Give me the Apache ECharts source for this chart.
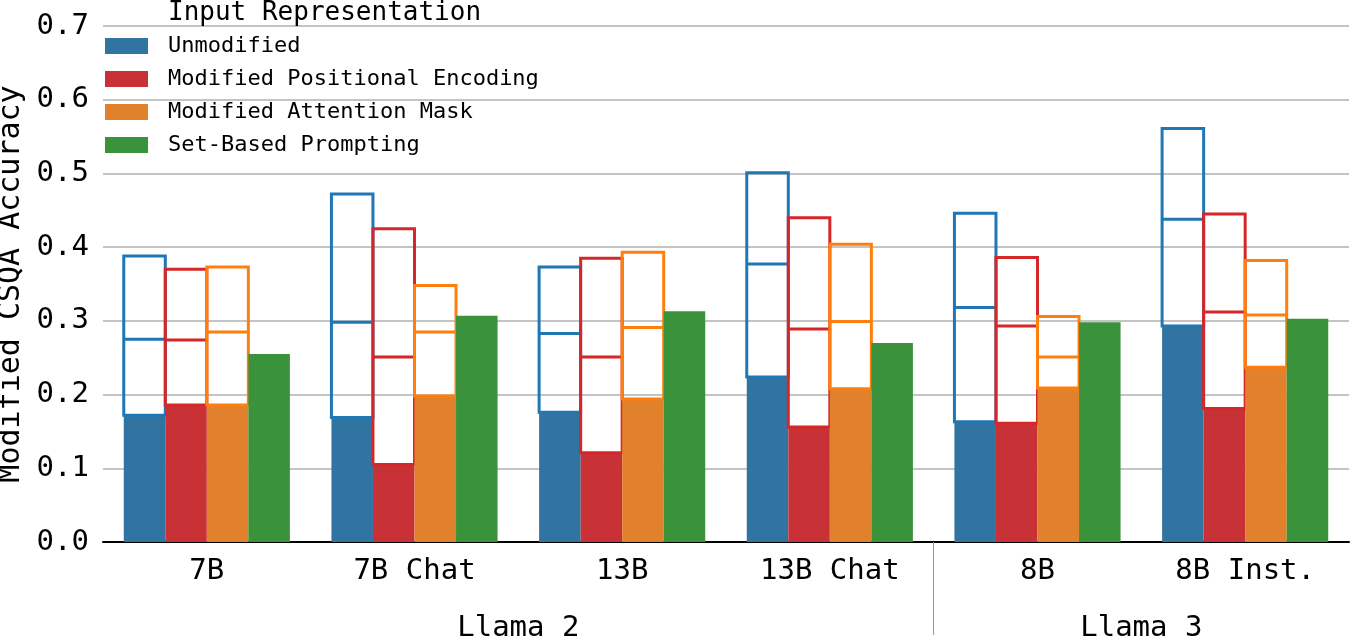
<!DOCTYPE html>
<html>
<head>
<meta charset="utf-8">
<script src="https://cdn.jsdelivr.net/npm/echarts@6.0.0/dist/echarts.min.js"></script>
<style>
  html, body { margin: 0; padding: 0; background: #fff; }
  #chart { width: 1353px; height: 640px; }
</style>
</head>
<body>
<div id="chart"></div>
<script>
const categories = ['7B', '7B Chat', '13B', '13B Chat', '8B', '8B Inst.'];
const families = ['Llama 2', 'Llama 3'];

// min / median / max per model
const unmodMin = [0.172, 0.169, 0.176, 0.224, 0.163, 0.293];
const unmodMed = [0.275, 0.298, 0.283, 0.377, 0.318, 0.438];
const unmodMax = [0.388, 0.472, 0.373, 0.501, 0.446, 0.561];

const posMin = [0.186, 0.105, 0.121, 0.156, 0.161, 0.181];
const posMed = [0.274, 0.251, 0.251, 0.289, 0.293, 0.312];
const posMax = [0.370, 0.425, 0.385, 0.440, 0.386, 0.445];

const maskMin = [0.186, 0.198, 0.194, 0.208, 0.209, 0.237];
const maskMed = [0.285, 0.285, 0.291, 0.299, 0.251, 0.308];
const maskMax = [0.373, 0.348, 0.393, 0.404, 0.306, 0.382];

const setBased = [0.255, 0.307, 0.313, 0.270, 0.298, 0.303];

const yTicks = [0, 0.1, 0.2, 0.3, 0.4, 0.5, 0.6, 0.7];

const FONT = 'DejaVu Sans Mono';

// fill colour, outline colour
const styles = [
    {name: 'Unmodified', fill: '#3274a1', line: '#1f77b4'},
    {name: 'Modified Positional Encoding', fill: '#c83236', line: '#d62728'},
    {name: 'Modified Attention Mask', fill: '#e1812c', line: '#ff7f0e'},
    {name: 'Set-Based Prompting', fill: '#3a923a', line: '#2ca02c'}
];

function rows(mins, meds, maxs) {
    return categories.map(function (c, i) {
        return meds ? [i, mins[i], meds[i], maxs[i]] : [i, mins[i]];
    });
}

function makeRender(k) {
    return function (params, api) {
        const i = api.value(0);
        const band = api.size([1, 0])[0];
        const w = band * 0.8 / 4;
        const base = api.coord([i, 0]);
        const x = base[0] - band * 0.4 + k * w;
        const yMin = api.coord([i, api.value(1)])[1];
        const children = [{
            type: 'rect',
            shape: {x: x, y: yMin, width: w, height: base[1] - yMin},
            style: {fill: styles[k].fill}
        }];
        if (api.value(3) != null && !isNaN(api.value(3))) {
            const yMed = api.coord([i, api.value(2)])[1];
            const yMax = api.coord([i, api.value(3)])[1];
            children.push({
                type: 'rect',
                shape: {x: x, y: yMax, width: w, height: yMin - yMax},
                style: {fill: null, stroke: styles[k].line, lineWidth: 3}
            });
            children.push({
                type: 'line',
                shape: {x1: x, y1: yMed, x2: x + w, y2: yMed},
                style: {stroke: styles[k].line, lineWidth: 3}
            });
        }
        return {type: 'group', children: children};
    };
}

const seriesData = [
    rows(unmodMin, unmodMed, unmodMax),
    rows(posMin, posMed, posMax),
    rows(maskMin, maskMed, maskMax),
    rows(setBased)
];

const chart = echarts.init(document.getElementById('chart'));

const option = {
    animation: false,
    textStyle: {fontFamily: FONT},
    title: {
        text: 'Input Representation',
        left: 168,
        top: 0,
        padding: 0,
        textStyle: {fontFamily: FONT, fontSize: 26, fontWeight: 'normal', color: '#000'}
    },
    legend: {
        orient: 'vertical',
        left: 105,
        top: 35,
        padding: 0,
        itemWidth: 43,
        itemHeight: 16,
        itemGap: 11,
        icon: 'rect',
        data: styles.map(function (s) { return s.name; }),
        textStyle: {fontFamily: FONT, fontSize: 22, lineHeight: 22, color: '#000', padding: [0, 0, 0, 15]}
    },
    grid: {left: 103, right: 4, top: 26, bottom: 98, containLabel: false, outerBoundsMode: 'none'},
    xAxis: [{
        type: 'category',
        data: categories,
        axisLine: {lineStyle: {color: '#000', width: 2}},
        axisTick: {show: false},
        axisLabel: {fontFamily: FONT, fontSize: 29, color: '#000', margin: 15}
    }, {
        type: 'value',
        position: 'bottom',
        min: 0,
        max: categories.length,
        interval: 1,
        axisLine: {show: false},
        splitLine: {show: false},
        axisTick: {show: true, customValues: [4], length: 93, lineStyle: {color: '#999', width: 1}},
        axisLabel: {
            customValues: [2, 5],
            fontFamily: FONT, fontSize: 29, color: '#000', margin: 72,
            formatter: function (v) { return v === 2 ? families[0] : (v === 5 ? families[1] : ''); }
        }
    }],
    yAxis: {
        type: 'value',
        min: yTicks[0],
        max: yTicks[yTicks.length - 1],
        interval: 0.1,
        name: 'Modified CSQA Accuracy',
        nameLocation: 'middle',
        nameRotate: 90,
        nameGap: 66,
        nameTextStyle: {fontFamily: FONT, fontSize: 30, color: '#000'},
        axisLine: {show: false},
        axisTick: {show: false},
        axisLabel: {
            fontFamily: FONT, fontSize: 29, color: '#000', margin: 14,
            formatter: function (v) { return v.toFixed(1); }
        },
        splitLine: {lineStyle: {color: '#b0b0b0', width: 1.5}}
    },
    series: styles.map(function (s, k) {
        return {
            name: s.name,
            type: 'custom',
            xAxisIndex: 0,
            itemStyle: {color: s.fill},
            renderItem: makeRender(k),
            encode: {x: 0, y: seriesData[k][0].length > 2 ? [1, 2, 3] : [1]},
            data: seriesData[k]
        };
    })
};

chart.setOption(option);
</script>
</body>
</html>
